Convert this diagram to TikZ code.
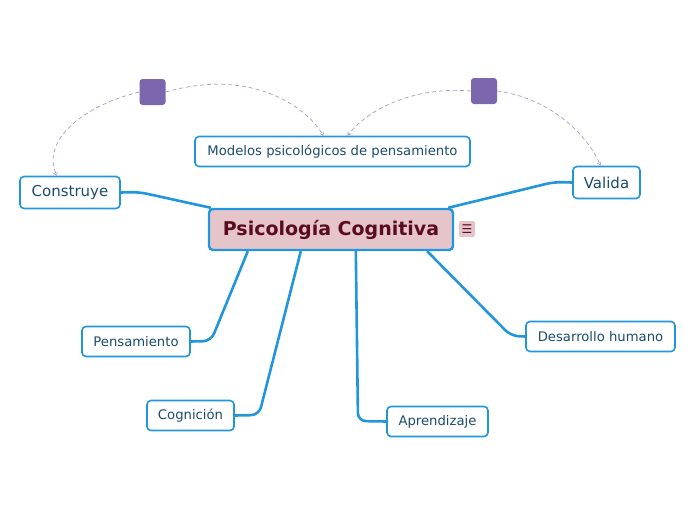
\documentclass[tikz,border=0pt]{standalone}
\usepackage{fontspec}
\setmainfont{DejaVu Sans}
\usepackage{xcolor}
\usetikzlibrary{positioning,arrows.meta,backgrounds}
\definecolor{mapblue}{HTML}{2196DC}
\definecolor{maptext}{HTML}{1D4B6E}
\definecolor{rootfill}{HTML}{E6C5CA}
\definecolor{roottext}{HTML}{5A0B20}
\definecolor{tagpurple}{HTML}{7C67AF}
\definecolor{linkpurple}{HTML}{A89BCC}

\begin{document}
\begin{tikzpicture}[x=1pt, y=-1pt,
  root/.style={rectangle, rounded corners=4pt, draw=mapblue, line width=2.4pt, fill=rootfill,
               text=roottext, font=\fontsize{19}{22}\selectfont\bfseries,
               minimum width=244pt, minimum height=41pt, inner sep=0pt},
  topic/.style={rectangle, rounded corners=4pt, draw=mapblue, line width=1.6pt, fill=white,
                text=maptext, font=\fontsize{13.2}{15}\selectfont, minimum height=30pt, inner sep=0pt},
  bigtopic/.style={topic, font=\fontsize{15}{18}\selectfont, minimum height=32pt},
  tag/.style={rectangle, rounded corners=3pt, fill=tagpurple, minimum size=26pt, inner sep=0pt},
  branch/.style={mapblue, line width=2.6pt, rounded corners=8pt},
  rel/.style={-{Straight Barb[length=3pt,width=4pt]}, linkpurple, line width=0.7pt, dash pattern=on 4pt off 3pt}
]
\useasboundingbox (0,0) rectangle (696,520);

% central topic
\node[root] (psico) at (331,229.5) {Psicología Cognitiva};
\node[rectangle, rounded corners=2pt, fill=rootfill, text=roottext, minimum size=16pt, inner sep=0pt,
      font=\fontsize{12}{12}\selectfont] (menu) at (467,229) {☰};

% subtopics
\node[topic, minimum width=275pt] (model) at (332.5,151.5) {Modelos psicológicos de pensamiento};
\node[bigtopic, minimum width=100pt] (cons) at (70,192.5) {Construye};
\node[bigtopic, minimum width=67pt] (vali) at (606.5,182.5) {Valida};
\node[topic, minimum width=108pt] (pens) at (136,341.5) {Pensamiento};
\node[topic, minimum width=87pt] (cogn) at (190.5,415.5) {Cognición};
\node[topic, minimum width=101pt] (apre) at (437.5,421.5) {Aprendizaje};
\node[topic, minimum width=149pt] (desa) at (600.5,336.5) {Desarrollo humano};

% relation markers
\node[tag] (tagA) at (152.5,92) {};
\node[tag] (tagB) at (484,91) {};

\begin{scope}[on background layer]
\draw[branch] ([xshift=3pt]psico.north west) -- (139,192) -- (cons.east);
\draw[branch] ([xshift=-6pt]psico.north east) -- (554,182) -- (vali.west);
\draw[branch] ([xshift=40pt]psico.south west) -- (211,341) -- (pens.east);
\draw[branch] ([xshift=93pt]psico.south west) -- (259,415) -- (cogn.east);
\draw[branch] ([xshift=148pt]psico.south west) -- (358,421) -- (apre.west);
\draw[branch] ([xshift=-27pt]psico.south east) -- (511,336) -- (desa.west);
\end{scope}

% relations
\draw[rel] (tagA.west) .. controls (85,105) and (40,140) .. ([xshift=-13pt]cons.north);
\draw[rel] (tagA.east) .. controls (250,68) and (305,105) .. ([xshift=-9pt]model.north);
\draw[rel] (tagB.west) .. controls (410,86) and (365,112) .. ([xshift=15pt]model.north);
\draw[rel] (tagB.east) .. controls (550,98) and (588,135) .. ([xshift=-6pt]vali.north);
\end{tikzpicture}
\end{document}
